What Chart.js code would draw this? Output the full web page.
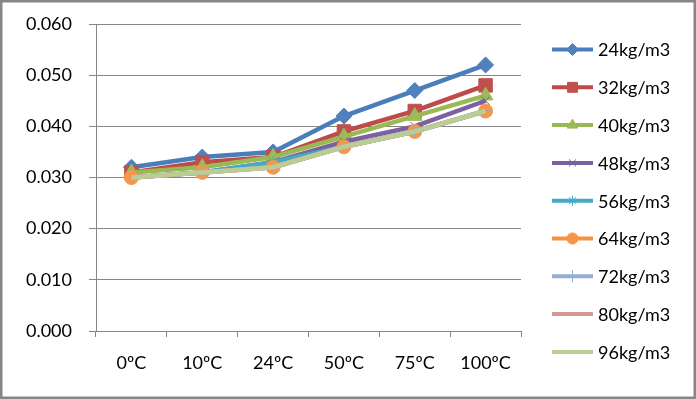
<!DOCTYPE html>
<html>
<head>
<meta charset="utf-8">
<script src="https://cdn.jsdelivr.net/npm/chart.js@4/dist/chart.umd.min.js"></script>
<style>
    body { margin: 0; background: #fff; }
    #wrap { width: 696px; height: 399px; }
</style>
</head>
<body>
<div id="wrap"><canvas id="chart" width="696" height="399"></canvas></div>
<script>
// categories (temperatures) and one array per density
const temps = ['0ºC', '10ºC', '24ºC', '50ºC', '75ºC', '100ºC'];
const yTicks = [0, 0.01, 0.02, 0.03, 0.04, 0.05, 0.06];

const d24 = [0.032, 0.034, 0.035, 0.042, 0.047, 0.052];
const d32 = [0.031, 0.033, 0.034, 0.039, 0.043, 0.048];
const d40 = [0.031, 0.032, 0.034, 0.038, 0.042, 0.046];
const d48 = [0.030, 0.031, 0.033, 0.037, 0.040, 0.045];
const d56 = [0.030, 0.031, 0.033, 0.036, 0.039, 0.043];
const d64 = [0.030, 0.031, 0.032, 0.036, 0.039, 0.043];
const d72 = [0.030, 0.031, 0.032, 0.036, 0.039, 0.043];
const d80 = [0.030, 0.031, 0.032, 0.036, 0.039, 0.043];
const d96 = [0.030, 0.031, 0.032, 0.036, 0.039, 0.043];

const seriesNames = ['24kg/m3', '32kg/m3', '40kg/m3', '48kg/m3', '56kg/m3', '64kg/m3', '72kg/m3', '80kg/m3', '96kg/m3'];
const seriesData = [d24, d32, d40, d48, d56, d64, d72, d80, d96];

const FONT = 'Lato, "Noto Sans", sans-serif';
const GRID = '#868686';

// line colour, marker fill, marker shape, marker radius (chart / legend)
const styles = [
    { line: '#4A7EBB', fill: '#4F81BD', shape: 'rectRot', r: 8, lr: 6 },
    { line: '#BE4B48', fill: '#C0504D', shape: 'rect', r: 9.5, lr: 7 },
    { line: '#98B954', fill: '#9BBB59', shape: 'triangle', r: 8.5, lr: 6 },
    { line: '#7D60A0', fill: '#8064A2', shape: 'crossRot', r: 6, lr: 5 },
    { line: '#46AAC5', fill: '#4BACC6', shape: 'star', r: 6, lr: 5 },
    { line: '#F69240', fill: '#F79646', shape: 'circle', r: 7, lr: 5.5 },
    { line: '#94ADD5', fill: '#94ADD5', shape: 'cross', r: 6, lr: 6 },
    { line: '#D49896', fill: '#D49896', shape: false, r: 0, lr: 0 },
    { line: '#B9CD96', fill: '#B9CD96', shape: false, r: 0, lr: 0 }
];

const isLineMarker = s => s === 'cross' || s === 'crossRot' || s === 'star';

const datasets = seriesData.map((vals, i) => ({
    label: seriesNames[i],
    data: vals,
    borderColor: styles[i].line,
    borderWidth: 4.5,
    backgroundColor: styles[i].fill,
    pointStyle: styles[i].shape,
    pointRadius: styles[i].r,
    pointBorderColor: isLineMarker(styles[i].shape) ? styles[i].line : styles[i].fill,
    pointBorderWidth: 1,
    tension: 0,
    order: seriesData.length - i
}));

// outer frame of the chart
const framePlugin = {
    id: 'frame',
    beforeDraw(chart) {
        const ctx = chart.ctx;
        ctx.save();
        ctx.fillStyle = '#fff';
        ctx.fillRect(0, 0, chart.width, chart.height);
        ctx.strokeStyle = GRID;
        ctx.lineWidth = 2.5;
        ctx.strokeRect(1.25, 1.25, chart.width - 2.5, chart.height - 2.5);
        ctx.restore();
    }
};

// Excel-style legend: short line with the marker in the middle
const legendPlugin = {
    id: 'sideLegend',
    afterDraw(chart) {
        const ctx = chart.ctx;
        ctx.save();
        ctx.font = '18px ' + FONT;
        ctx.textBaseline = 'middle';
        ctx.textAlign = 'left';
        chart.data.datasets.forEach((ds, i) => {
            const y = 49.5 + i * 37.8;
            ctx.strokeStyle = ds.borderColor;
            ctx.lineWidth = 4;
            ctx.beginPath();
            ctx.moveTo(552, y);
            ctx.lineTo(593, y);
            ctx.stroke();
            if (ds.pointStyle) {
                ctx.fillStyle = ds.backgroundColor;
                ctx.strokeStyle = ds.pointBorderColor;
                ctx.lineWidth = 1;
                Chart.helpers.drawPoint(ctx, {
                    pointStyle: ds.pointStyle,
                    radius: styles[i].lr,
                    rotation: 0,
                    borderWidth: 1
                }, 572.5, y);
            }
            ctx.fillStyle = '#000';
            ctx.fillText(ds.label, 598, y + 1);
        });
        ctx.restore();
    }
};

new Chart(document.getElementById('chart'), {
    type: 'line',
    data: { labels: temps, datasets: datasets },
    options: {
        responsive: false,
        animation: false,
        devicePixelRatio: 1,
        layout: { padding: { top: 24, right: 175, bottom: 0, left: 0 } },
        plugins: {
            legend: { display: false },
            tooltip: { enabled: false }
        },
        scales: {
            x: {
                offset: true,
                grid: { display: true, drawOnChartArea: false, drawTicks: true, tickLength: 6, color: GRID, offset: true },
                border: { color: GRID, width: 1 },
                ticks: { color: '#000', font: { family: FONT, size: 18 }, padding: 15, maxRotation: 0 },
                afterFit: s => { s.height = 68; }
            },
            y: {
                min: 0,
                max: 0.06,
                afterBuildTicks: s => { s.ticks = yTicks.map(v => ({ value: v })); },
                grid: { color: GRID, lineWidth: 1, tickLength: 7 },
                border: { color: GRID, width: 1 },
                ticks: {
                    color: '#000',
                    font: { family: FONT, size: 18 },
                    padding: 17,
                    callback: v => Number(v).toFixed(3)
                },
                afterFit: s => { s.width = 96; s.paddingTop = 0; s.paddingBottom = 0; }
            }
        }
    },
    plugins: [framePlugin, legendPlugin]
});
</script>
</body>
</html>
